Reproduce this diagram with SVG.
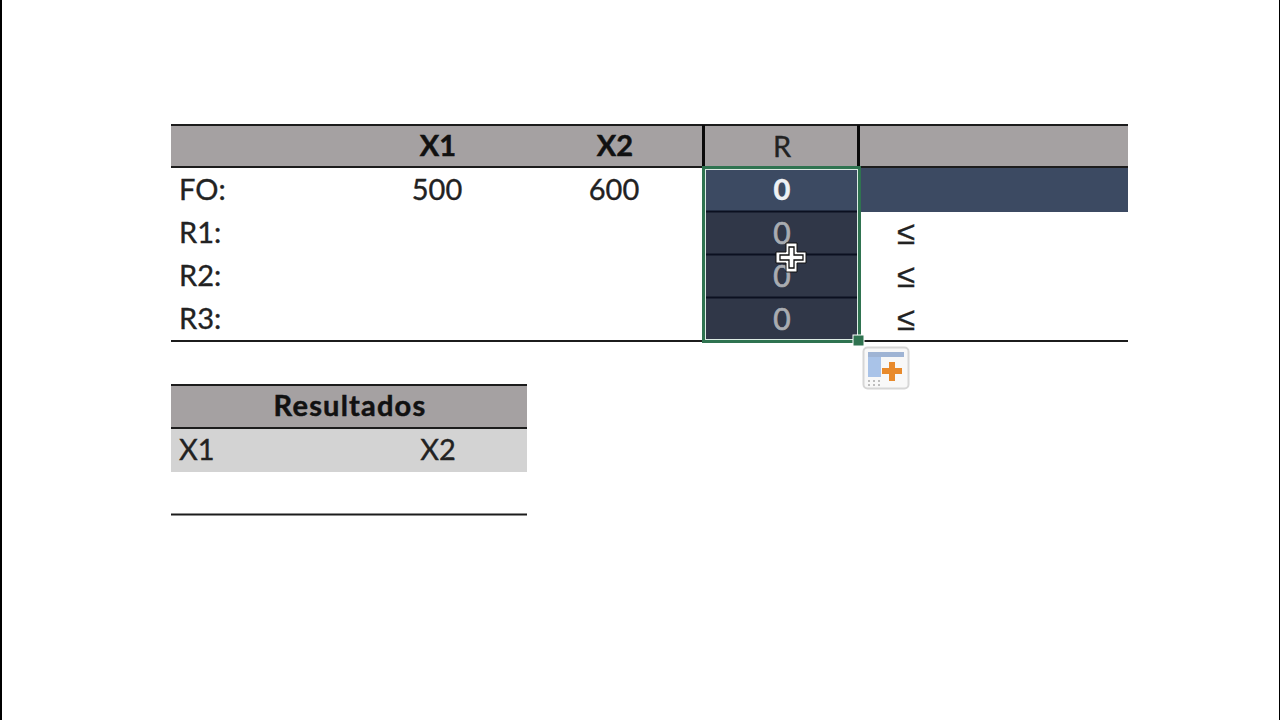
<svg xmlns="http://www.w3.org/2000/svg" width="1280" height="720" viewBox="0 0 1280 720">
<style>
text{font-family:Lato,"Liberation Sans",sans-serif;font-size:29px;fill:#222;stroke:#222;stroke-width:.35}
.b{font-weight:700;fill:#111;stroke:#111;stroke-width:.5}
.m{text-anchor:middle}
.z{fill:#a9acb2;stroke:#a9acb2;stroke-width:.7;font-size:30px}
.le{font-family:"Liberation Sans",sans-serif;font-size:33px;fill:#222;stroke:#222;stroke-width:.3}
.rule{stroke:#1c1c1c;stroke-width:2;fill:none}
.sep{stroke:#0a0a0a;stroke-width:3;fill:none}
.thin{stroke:#0b1020;stroke-width:2;fill:none}
</style>
<rect width="1280" height="720" fill="#fff"/>
<rect x="0" y="0" width="2" height="720" fill="#000"/>
<rect x="1279" y="0" width="1" height="720" fill="#000"/>
<g id="main-table">
<rect x="171" y="125" width="957" height="42" fill="#a5a1a2"/>
<rect x="859" y="168" width="269" height="44" fill="#3c4a62"/>
<rect x="705" y="168" width="153" height="44" fill="#3c4a62"/>
<rect x="705" y="212" width="153" height="129" fill="#303748"/>
<path class="rule" d="M171 125H1128M171 167H1128M171 341H1128"/>
<path class="sep" d="M703.500 125V167M858.500 125V167"/>
<path class="thin" d="M706 211.500H857M706 254.500H857M706 297.500H857"/>
<text class="b m" x="438" y="156">X1</text>
<text class="b m" x="615" y="156">X2</text>
<text class="m" x="782" y="157">R</text>
<text x="179" y="200">FO:</text>
<text x="179" y="243">R1:</text>
<text x="179" y="286">R2:</text>
<text x="179" y="329">R3:</text>
<text class="m" x="437" y="200">500</text>
<text class="m" x="614" y="200">600</text>
<text class="m b" x="782" y="200" style="fill:#eef1f5;stroke:#eef1f5">0</text>
<text class="m z" x="782" y="244">0</text>
<text class="m z" x="782" y="287">0</text>
<text class="m z" x="782" y="330">0</text>
<text class="m le" x="906" y="244">≤</text>
<text class="m le" x="906" y="287">≤</text>
<text class="m le" x="906" y="330">≤</text>
</g>
<g id="selection">
<rect x="703.500" y="167.500" width="156" height="174" fill="none" stroke="#2f7350" stroke-width="3"/>
<rect x="705.500" y="169.500" width="152" height="170" fill="none" stroke="#dcebe4" stroke-width="1"/>
<rect x="853" y="335" width="11" height="11" fill="#2f7350" stroke="#fff" stroke-width="1"/>
</g>
<g id="cursor">
<path d="M786 243h11v9h9v11h-9v9h-11v-9h-10v-11h10z" fill="#fff" stroke="#111" stroke-width="1"/>
<path d="M789 247h5v8h9v5h-9v8h-5v-8h-9v-5h9z" fill="#fff" stroke="#111" stroke-width="1.300"/>
</g>
<g id="paste-options">
<rect x="863.500" y="347.500" width="45" height="41" rx="4" fill="#f8f8f8" stroke="#d6d6d6" stroke-width="2"/>
<path d="M868 352h36v5h-36z" fill="#9fb4d4"/>
<path d="M868 357h13v20h-13z" fill="#a9c3e8"/>
<path d="M889 362h6v6h7v6h-7v7h-6v-7h-7v-6h7z" fill="#e88a2c"/>
<path d="M868 381h2M873 381h2M878 381h2M868 385h2M873 385h2M878 385h2" stroke="#aaa" stroke-width="1.500"/>
</g>
<g id="results-table">
<rect x="171" y="385" width="356" height="42" fill="#a5a1a2"/>
<rect x="171" y="428" width="356" height="44" fill="#d3d3d3"/>
<path class="rule" d="M171 385H527M171 428H527M171 514.500H527"/>
<text class="b m" x="350" y="416" style="letter-spacing:1.2px">Resultados</text>
<text x="179" y="460">X1</text>
<text class="m" x="438" y="460">X2</text>
</g>
</svg>
